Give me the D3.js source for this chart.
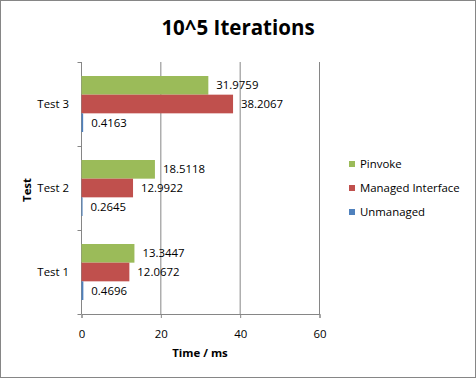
<!DOCTYPE html>
<html><head><meta charset="utf-8">
<script src="https://cdn.jsdelivr.net/npm/d3@7"></script>
<style>body{margin:0;background:#fff}svg{display:block}text{font-family:"Open Sans","DejaVu Sans",sans-serif}</style>
</head><body><svg id="c" width="476" height="378"></svg>
<script>
const categories = ["Test 1", "Test 2", "Test 3"];
const seriesNames = ["Pinvoke", "Managed Interface", "Unmanaged"];
const pinvoke = [13.3447, 18.5118, 31.9759];
const managed = [12.0672, 12.9922, 38.2067];
const unmanaged = [0.4696, 0.2645, 0.4163];
const xTicks = [0, 20, 40, 60];
const colors = ["#9BBB59", "#C0504D", "#4F81BD"];
const seriesValues = [pinvoke, managed, unmanaged];

const svg = d3.select("#c");
const fontSize = 11.4;
svg.append("rect").attr("x",0.5).attr("y",0.5).attr("width",475).attr("height",377)
  .attr("fill","#fff").attr("stroke","#868686");

svg.append("text").attr("x",238).attr("y",34.5).attr("text-anchor","middle")
  .attr("font-size",20.5).attr("font-weight","bold").text("10^5 Iterations");

const L = 81.5, R = 319.5, T = 62, B = 314;
const x = d3.scaleLinear().domain([0,60]).range([L,R]);
const y = d3.scaleBand().domain(categories.slice().reverse()).range([T,B]).paddingInner(1/3).paddingOuter(1/6);
const yOuter = d3.scaleBand().domain(categories.slice().reverse()).range([T,B]);
const ys = d3.scaleBand().domain(seriesNames).range([0,y.bandwidth()]);

// gridlines
svg.append("g").selectAll("line").data(xTicks.slice(1)).join("line")
  .attr("x1",d=>x(d)).attr("x2",d=>x(d)).attr("y1",T).attr("y2",B)
  .attr("stroke","#868686").attr("stroke-width",1);

// x axis
const xa = svg.append("g").attr("transform",`translate(0,${B})`)
  .call(d3.axisBottom(x).tickValues(xTicks).tickSize(4).tickPadding(12));
xa.select(".domain").attr("stroke","#868686");
xa.selectAll("line").attr("stroke","#868686");
xa.selectAll("text").attr("font-size",fontSize).attr("fill","#000").attr("font-family",null);

// y axis (ticks at band boundaries)
const yb = [T, ...categories.map((c)=>yOuter(c)+yOuter.step())];
svg.append("line").attr("x1",L).attr("x2",L).attr("y1",T).attr("y2",B).attr("stroke","#868686");
svg.append("g").selectAll("line").data(yb).join("line")
  .attr("x1",L-4).attr("x2",L).attr("y1",d=>Math.round(d)+0.5).attr("y2",d=>Math.round(d)+0.5).attr("stroke","#868686");
svg.append("g").selectAll("text").data(categories).join("text")
  .attr("x",69).attr("y",d=>yOuter(d)+yOuter.bandwidth()/2).attr("dy","0.35em")
  .attr("text-anchor","end").attr("font-size",fontSize).text(d=>d);

// bars
seriesNames.forEach((s,i)=>{
  const g = svg.append("g");
  g.selectAll("rect").data(categories).join("rect")
    .attr("x",x(0)).attr("y",(d)=>y(d)+ys(s))
    .attr("width",(d,j)=>x(seriesValues[i][j])-x(0)).attr("height",ys.bandwidth())
    .attr("fill",colors[i]);
  g.selectAll("text").data(categories).join("text")
    .attr("x",(d,j)=>x(seriesValues[i][j])+8).attr("y",(d)=>y(d)+ys(s)+ys.bandwidth()/2).attr("dy","0.35em")
    .attr("font-size",fontSize).text((d,j)=>seriesValues[i][j].toFixed(4).replace(/0+$/,''));
});

// axis titles
svg.append("text").attr("x",200).attr("y",357).attr("text-anchor","middle")
  .attr("font-size",fontSize).attr("font-weight","bold").text("Time / ms");
svg.append("text").attr("transform","translate(31,190) rotate(-90)").attr("text-anchor","middle")
  .attr("font-size",fontSize).attr("font-weight","bold").text("Test");

// legend
const lg = svg.append("g");
seriesNames.forEach((s,i)=>{
  lg.append("rect").attr("x",349).attr("y",161+i*24).attr("width",6).attr("height",6).attr("fill",colors[i]);
  lg.append("text").attr("x",360).attr("y",164+i*24).attr("dy","0.35em").attr("font-size",fontSize).text(s);
});
</script></body></html>
